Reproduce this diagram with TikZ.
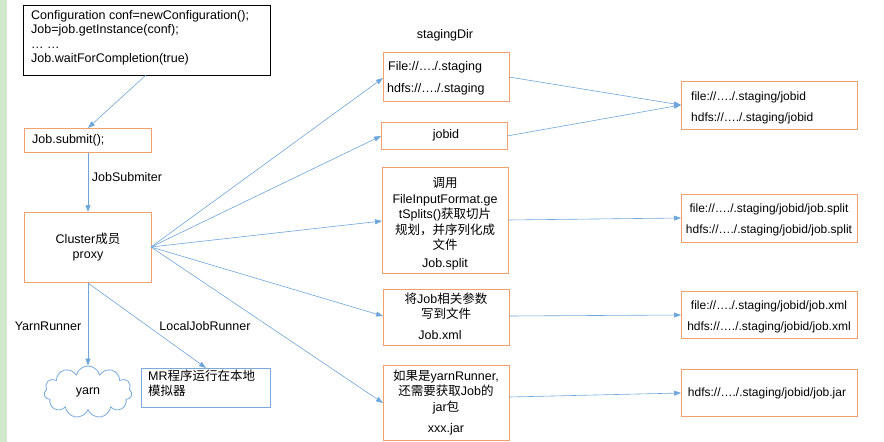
\documentclass[tikz,border=0pt]{standalone}
\usepackage{fontspec}
\setmainfont{Liberation Sans}
\newfontfamily\cjk{Noto Sans CJK SC}
\newcommand{\zh}[1]{{\cjk #1}}
\usetikzlibrary{shapes.symbols,arrows.meta}
\definecolor{ln}{RGB}{110,165,218}
\definecolor{org}{RGB}{242,160,110}
\definecolor{blu}{RGB}{120,170,220}
\definecolor{grn}{RGB}{210,232,205}
\begin{document}
\begin{tikzpicture}[x=1pt,y=-1pt,
  every node/.style={font=\fontsize{12.5}{15}\selectfont, inner sep=2pt},
  ob/.style={draw=org, line width=1pt},
  ar/.style={draw=ln, line width=0.6pt, -{Triangle[length=7pt,width=5pt]}},
  rt/.style={font=\fontsize{12}{14}\selectfont}]
\useasboundingbox (0,0) rectangle (884,442);
\fill[grn] (0,0) rectangle (7,442);
% left column
\draw[black, line width=0.8pt] (23,5) rectangle (270,75);
\node[anchor=north west, align=left, font=\fontsize{12.5}{14.5}\selectfont] (conf) at (29,8) {Configuration conf=newConfiguration();\\Job=job.getInstance(conf);\\… …\\Job.waitForCompletion(true)};
\coordinate (confb) at (146,75);
\node[ob, minimum width=127, minimum height=24, anchor=north west] (submit) at (24,128) {};
\node[anchor=west] at (30,140) {Job.submit();};
\node[ob, minimum width=127, minimum height=70, anchor=north west, align=center] (cluster) at (24,212) {Cluster\zh{成员}\\proxy};
\node[cloud, cloud puffs=11, draw=blu, line width=0.8pt, minimum width=88, minimum height=52, aspect=1.8] (yarn) at (88,392) {yarn};
\node[draw=blu, line width=1pt, minimum width=129, minimum height=39, anchor=north west, align=left] (mr) at (141,368) {};
\node[anchor=north west, align=left, font=\fontsize{12.5}{15}\selectfont] at (146,368) {MR\zh{程序运行在本地}\\\zh{模拟器}};
\draw[ar] (confb) -- (submit.north);
\draw[ar] (submit.south) -- (cluster.north);
\node at (127,177) {JobSubmiter};
\draw[ar] (cluster.south) -- (yarn.north);
\node at (48,326) {YarnRunner};
\draw[ar] (cluster.south) -- (mr.north);
\node at (205,326) {LocalJobRunner};
% middle column
\node at (445,35) {stagingDir};
\node[ob, minimum width=126, minimum height=49, anchor=north west] (stg) at (383,52) {};
\node[anchor=west] at (386,67) {File://…./.staging};
\node[anchor=west] at (385,89) {hdfs://…./.staging};
\node[ob, minimum width=126, minimum height=27, anchor=north west] (jobid) at (381,122) {};
\node at (446,135) {jobid};
\node[ob, minimum width=126, minimum height=106, anchor=north west] (split) at (382,167) {};
\node[align=center, font=\fontsize{12.5}{15.5}\selectfont] at (445,214) {\zh{调用}\\FileInputFormat.ge\\tSplits()\zh{获取切片}\\\zh{规划，并序列化成}\\\zh{文件}};
\node at (445,264) {Job.split};
\node[ob, minimum width=126, minimum height=56, anchor=north west] (xml) at (383,289) {};
\node[align=center] at (446,306) {\zh{将}Job\zh{相关参数}\\\zh{写到文件}};
\node at (440,335) {Job.xml};
\node[ob, minimum width=126, minimum height=75, anchor=north west] (jar) at (383,365) {};
\node[align=center, font=\fontsize{12.5}{15.5}\selectfont] at (446,392) {\zh{如果是}yarnRunner,\\\zh{还需要获取}Job\zh{的}\\jar\zh{包}};
\node at (446,429) {xxx.jar};
\coordinate (c) at (151,247);
\draw[ar] (c) -- (383,78);
\draw[ar] (c) -- (381,136);
\draw[ar] (c) -- (382,221);
\draw[ar] (c) -- (383,316);
\draw[ar] (c) -- (383,403);
% right column
\node[ob, minimum width=176, minimum height=48, anchor=north west] (r1) at (681,81) {};
\node[rt, anchor=west] at (689,97) {file://…./.staging/jobid};
\node[rt, anchor=west] at (689,118) {hdfs://…./.staging/jobid};
\node[ob, minimum width=176, minimum height=48, anchor=north west] (r2) at (681,194) {};
\node[rt] at (769,209) {file://…./.staging/jobid/job.split};
\node[rt] at (769,230) {hdfs://…./.staging/jobid/job.split};
\node[ob, minimum width=176, minimum height=47, anchor=north west] (r3) at (681,291) {};
\node[rt] at (769,306) {file://…./.staging/jobid/job.xml};
\node[rt] at (769,327) {hdfs://…./.staging/jobid/job.xml};
\node[ob, minimum width=176, minimum height=47, anchor=north west] (r4) at (681,369) {};
\node[rt] at (767,393) {hdfs://…./.staging/jobid/job.jar};
\draw[ar] (509,77) -- (681,105);
\draw[ar] (507,136) -- (681,105);
\draw[ar] (508,220) -- (681,218);
\draw[ar] (509,316) -- (681,315);
\draw[ar] (509,397) -- (681,393);
\end{tikzpicture}
\end{document}
